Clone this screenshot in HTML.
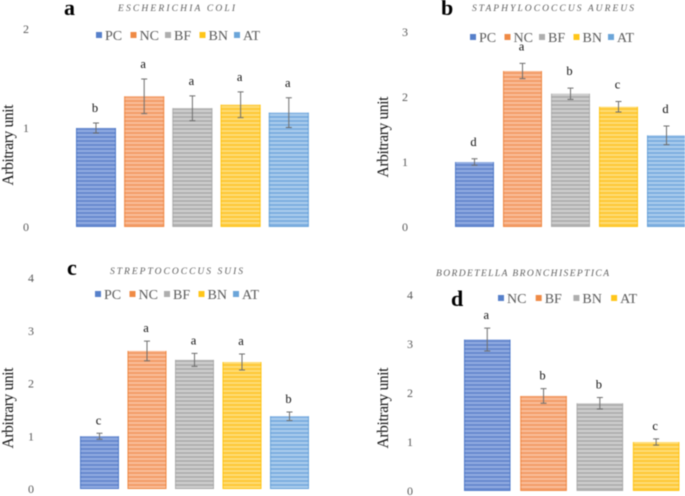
<!DOCTYPE html>
<html lang="en">
<head>
<meta charset="utf-8">
<title>Arbitrary unit by treatment for four bacteria</title>
<style>
html,body{margin:0;padding:0;background:#fff;width:685px;height:496px;overflow:hidden}
svg{display:block;filter:blur(0.4px)}
text{font-family:"Liberation Serif",serif}
</style>
</head>
<body>
<svg id="figure" xmlns="http://www.w3.org/2000/svg" width="685" height="496" viewBox="0 0 685 496">
<defs>
<pattern id="stripe-0" patternUnits="userSpaceOnUse" width="8" height="4"><rect width="8" height="4" fill="#92ace1"/><rect width="8" height="2" fill="#6689cf"/></pattern>
<pattern id="stripe-1" patternUnits="userSpaceOnUse" width="8" height="4"><rect width="8" height="4" fill="#fabd98"/><rect width="8" height="2" fill="#f29c68"/></pattern>
<pattern id="stripe-2" patternUnits="userSpaceOnUse" width="8" height="4"><rect width="8" height="4" fill="#cfcfcf"/><rect width="8" height="2" fill="#afafaf"/></pattern>
<pattern id="stripe-3" patternUnits="userSpaceOnUse" width="8" height="4"><rect width="8" height="4" fill="#ffdd75"/><rect width="8" height="2" fill="#fdc836"/></pattern>
<pattern id="stripe-4" patternUnits="userSpaceOnUse" width="8" height="4"><rect width="8" height="4" fill="#abcdec"/><rect width="8" height="2" fill="#7cade0"/></pattern>
</defs>
</svg>
<script>
// Chart data
const categoriesA = ['PC', 'NC', 'BF', 'BN', 'AT'];
const valuesA = [1, 1.32, 1.2, 1.235, 1.155];
const errorsA = [0.05, 0.175, 0.125, 0.13, 0.15];
const lettersA = ['b', 'a', 'a', 'a', 'a'];

const categoriesB = ['PC', 'NC', 'BF', 'BN', 'AT'];
const valuesB = [1, 2.4, 2.05, 1.85, 1.41];
const errorsB = [0.05, 0.118, 0.087, 0.08, 0.143];
const lettersB = ['d', 'a', 'b', 'c', 'd'];

const categoriesC = ['PC', 'NC', 'BF', 'BN', 'AT'];
const valuesC = [1, 2.62, 2.45, 2.41, 1.38];
const errorsC = [0.057, 0.187, 0.123, 0.152, 0.08];
const lettersC = ['c', 'a', 'a', 'a', 'b'];

const categoriesD = ['NC', 'BF', 'BN', 'AT'];
const valuesD = [3.09, 1.94, 1.79, 1];
const errorsD = [0.233, 0.15, 0.117, 0.065];
const lettersD = ['a', 'b', 'b', 'c'];

const ticksA = [0, 1, 2];
const ticksB = [0, 1, 2, 3];
const ticksC = [0, 1, 2, 3, 4];
const ticksD = [0, 1, 2, 3, 4];

const seriesColors = ['#4472c4', '#ed7d31', '#a5a5a5', '#ffc000', '#5b9bd5'];

// Layout only
const panels = [
  {id:'a', title:'ESCHERICHIA COLI', cats:categoriesA, vals:valuesA, errs:errorsA, sig:lettersA, ticks:ticksA,
   base:227, unit:99, x0:76, step:48.2, w:40, tickX:26, gap:11,
   titleX:118, titleW:117, titleY:11, tagX:64, tagY:15,
   legX:96, legStep:34.5, legY:35, axisX:13, axisY:145},
  {id:'b', title:'STAPHYLOCOCCUS AUREUS', cats:categoriesB, vals:valuesB, errs:errorsB, sig:lettersB, ticks:ticksB,
   base:227, unit:65, x0:455, step:48, w:39, tickX:405, gap:13,
   titleX:472, titleW:162, titleY:11, tagX:441, tagY:15,
   legX:470, legStep:34.5, legY:37, axisX:388, axisY:137},
  {id:'c', title:'STREPTOCOCCUS SUIS', cats:categoriesC, vals:valuesC, errs:errorsC, sig:lettersC, ticks:ticksC,
   base:489, unit:52.7, x0:80, step:47.5, w:39, tickX:31, gap:9,
   titleX:110, titleW:133, titleY:274, tagX:67, tagY:275,
   legX:95, legStep:34.5, legY:294, axisX:13, axisY:408},
  {id:'d', title:'BORDETELLA BRONCHISEPTICA', cats:categoriesD, vals:valuesD, errs:errorsD, sig:lettersD, ticks:ticksD,
   base:491, unit:49, x0:464, step:56.3, w:46.5, tickX:410, gap:9,
   titleX:436, titleW:173, titleY:276, tagX:451, tagY:306,
   legX:498, legStep:37.7, legY:298, axisX:388, axisY:408}
];

const svg = document.getElementById('figure');
const NS = 'http://www.w3.org/2000/svg';

function make(parent, tag, attrs, text) {
  const el = document.createElementNS(NS, tag);
  for (const k in attrs) el.setAttribute(k, attrs[k]);
  if (text !== undefined) el.textContent = text;
  parent.appendChild(el);
  return el;
}

panels.forEach(function (p) {
  const yScale = function (v) { return p.base - v * p.unit; };
  const xScale = function (i) { return p.x0 + i * p.step; };

  const g = make(svg, 'g', {});
  
  

  const tag = make(g, 'text', {x:p.tagX, y:p.tagY, 'font-size':22, 'font-weight':'bold', fill:'#000'}, p.id);
  
  

  const title = make(g, 'text', {x:p.titleX, y:p.titleY, 'font-size':9.5, 'font-style':'italic', fill:'#5f5f5f',
    textLength:p.titleW, lengthAdjust:'spacing'}, p.title);
  
  

  const axisTitle = make(g, 'text', {x:p.axisX, y:p.axisY, 'font-size':15.5, fill:'#111', 'text-anchor':'middle',
    textLength:81, lengthAdjust:'spacing', transform:'rotate(-90 ' + p.axisX + ' ' + p.axisY + ')'}, 'Arbitrary unit');
  
  

  p.ticks.forEach(function (t) {
    const label = make(g, 'text', {x:p.tickX, y:yScale(t) + 4, 'font-size':12, fill:'#595959', 'text-anchor':'middle'}, String(t));
    
    
  });

  p.cats.forEach(function (cat, i) {
    const lx = p.legX + i * p.legStep;
    const sw = make(g, 'rect', {x:lx, y:p.legY - 3, width:6, height:6, fill:seriesColors[i], opacity:0.9});
    
    
    const lt = make(g, 'text', {x:lx + 9, y:p.legY + 5, 'font-size':14, fill:'#595959'}, cat);
    
    

    const v = p.vals[i];
    const e = p.errs[i];
    const x = xScale(i);
    const top = yScale(v);
    const bar = make(g, 'rect', {x:x, y:top, width:p.w, height:p.base - top, fill:'url(#stripe-' + i + ')'});
    
    

    const edge = make(g, 'path', {d:'M' + (x + 0.5) + ' ' + top + 'V' + (p.base - 0.5) + 'H' + (x + p.w - 0.5) + 'V' + top,
      fill:'none', stroke:seriesColors[i], 'stroke-opacity':0.75, 'stroke-width':1});
    
    

    const cx = x + p.w / 2;
    const hi = yScale(v + e);
    const lo = yScale(v - e);
    const err = make(g, 'path', {d:'M' + cx + ' ' + hi + 'V' + lo + 'M' + (cx - 3) + ' ' + hi + 'H' + (cx + 3) + 'M' + (cx - 3) + ' ' + lo + 'H' + (cx + 3),
      stroke:'#6e6e6e', 'stroke-width':1, fill:'none'});
    
    

    const sig = make(g, 'text', {x:cx - 1, y:hi - p.gap, 'font-size':12.5, fill:'#111', 'text-anchor':'middle'}, p.sig[i]);
    
    
  });
});
</script>
</body>
</html>
